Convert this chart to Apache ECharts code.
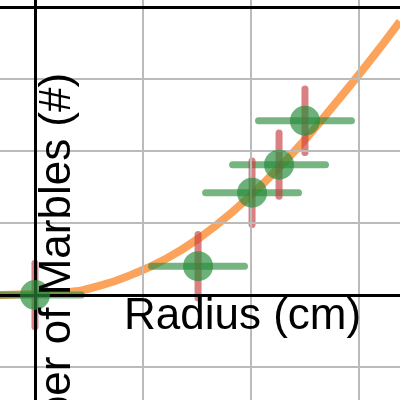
<!DOCTYPE html><html><head><meta charset="utf-8"><script src="https://cdn.jsdelivr.net/npm/echarts@6/dist/echarts.min.js"></script></head><body style="margin:0"><div id="c" style="width:400px;height:400px"></div><script>
const ptX=[0,1.51,2.01,2.26,2.50];
const ptY=[0,0.40,1.42,1.81,2.42];
const errX=[0.43,0.43,0.43,0.43,0.43];
const errY=[0.44,0.44,0.44,0.44,0.44];
const fitX=[-0.324,0.296,0.602,0.907,1.222,1.528,1.833,2.148,2.454,2.759,3.074,3.380];
const fitY=[0,0.04,0.13,0.29,0.51,0.80,1.16,1.60,2.08,2.62,3.20,3.80];
const gridXs=[1,2,3];const gridYs=[-1,1,2,3];
const ch=echarts.init(document.getElementById('c'));
const pts=ptX.map((x,i)=>[x,ptY[i],errX[i],errY[i]]);
function bars(vertical,color){return{type:'custom',data:pts,z:vertical?4:3,renderItem:(p,api)=>{
 const x=api.value(0),y=api.value(1),ex=api.value(2),ey=api.value(3);
 const a=vertical?api.coord([x,y-ey]):api.coord([x-ex,y]);const b=vertical?api.coord([x,y+ey]):api.coord([x+ex,y]);
 return{type:'line',shape:{x1:a[0],y1:a[1],x2:b[0],y2:b[1]},style:{stroke:color,lineWidth:7,lineCap:'round'}};}};}
ch.setOption({animation:false,
grid:{left:0,right:0,top:0,bottom:0},
xAxis:{type:'value',min:-0.324,max:3.38,show:false},
yAxis:{type:'value',min:-1.458,max:4.097,show:false},
graphic:[
{type:'text',left:124,top:295,style:{text:'Radius (cm)',font:'44px "Liberation Sans", Arial',fill:'#000'},z:10},
{type:'text',x:36,y:513,rotation:Math.PI/2,style:{text:'Number of Marbles (#)',font:'44px "Liberation Sans", Arial',fill:'#000'},z:10}
],
series:[
{type:'line',data:[],silent:true,markLine:{silent:true,symbol:'none',label:{show:false},lineStyle:{color:'#bbb',width:2,type:'solid'},
 data:gridXs.map(v=>({xAxis:v})).concat(gridYs.map(v=>({yAxis:v})))}},
{type:'line',data:[],silent:true,markLine:{silent:true,symbol:'none',label:{show:false},lineStyle:{color:'#000',width:3,type:'solid'},
 data:[{xAxis:0},{yAxis:0},{yAxis:4}]}},
{type:'line',data:fitX.map((x,i)=>[x,fitY[i]]),smooth:true,symbol:'none',lineStyle:{color:'rgba(250,140,50,0.8)',width:8},z:1},
bars(false,'rgba(45,140,60,0.65)'),
bars(true,'rgba(200,60,60,0.65)'),
{type:'scatter',data:pts.map(p=>[p[0],p[1]]),symbolSize:30,itemStyle:{color:'rgba(40,140,60,0.85)'},z:5}
]});
</script></body></html>
